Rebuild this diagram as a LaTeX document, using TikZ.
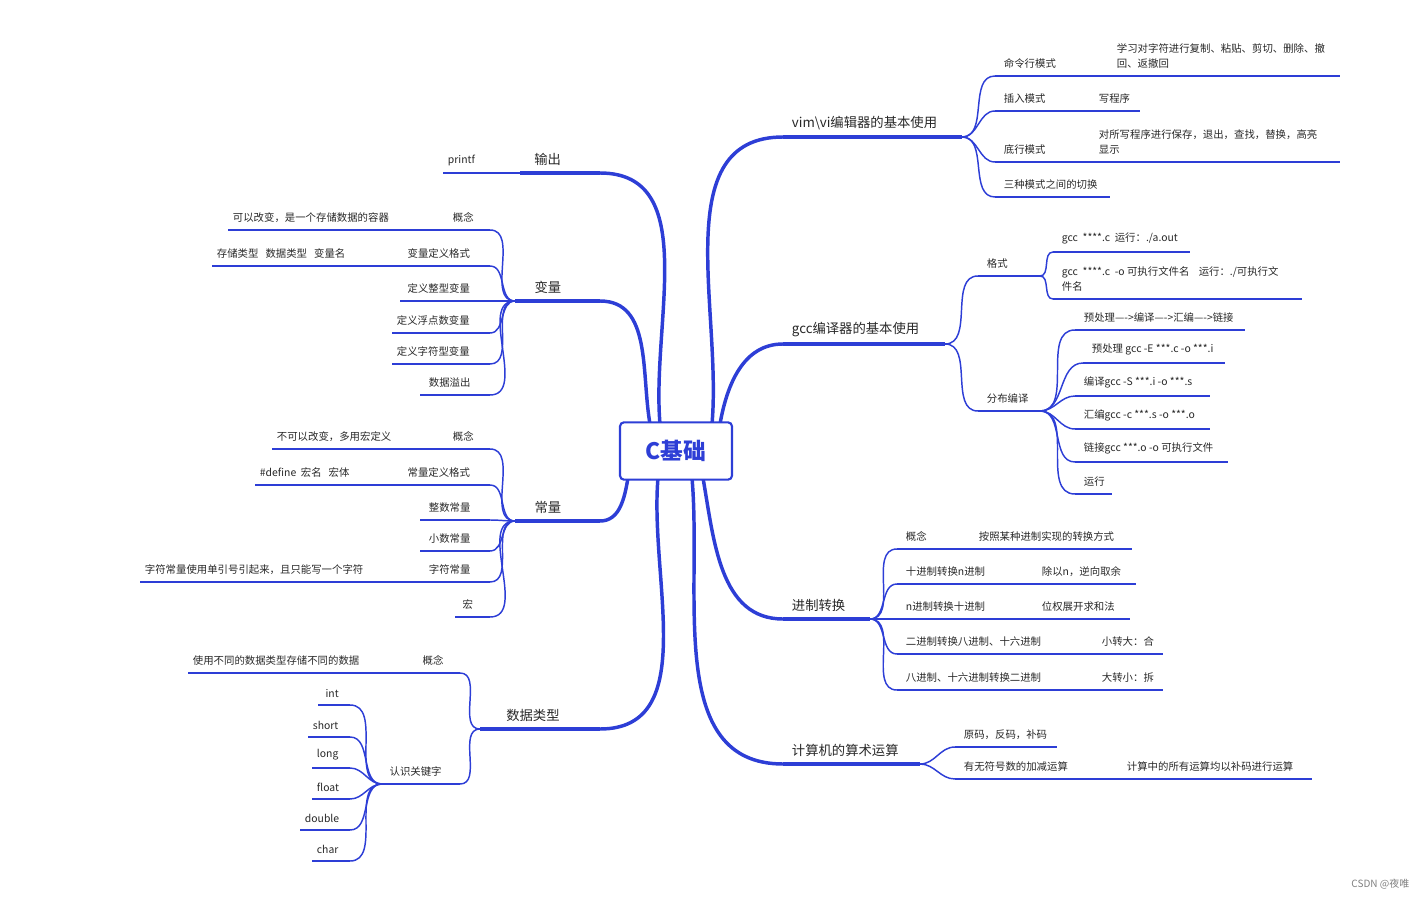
\documentclass[tikz,border=0pt]{standalone}
\usepackage{fontspec}
\setmainfont{Noto Sans CJK SC}
\definecolor{bl}{RGB}{45,62,214}
\definecolor{tx}{RGB}{40,40,40}
\newcommand\RI[6]{\coordinate (#1-a) at (#2,#4); \coordinate (#1-b) at (#3,#4); \draw[#5ln] (#1-a)--(#1-b); \node[#5tx,anchor=south west] (#1) at ([xshift=5pt,yshift=4pt]#1-a) {#6};}
\newcommand\LI[7]{\coordinate (#1-a) at (#2,#4); \coordinate (#1-b) at (#3,#4); \draw[#5ln] (#1-a)--(#1-b); \node[#5tx,anchor=south west] (#1) at ([xshift=#7,yshift=4pt]#1-a) {#6};}
\begin{document}
\begin{tikzpicture}[x=0.75pt,y=-0.75pt,
 mln/.style={bl,line width=2.6pt},
 sln/.style={bl,line width=1.1pt},
 mtx/.style={tx,font=\fontsize{10pt}{12pt}\selectfont,inner sep=1.5pt,align=left},
 stx/.style={tx,font=\fontsize{7.8pt}{11.5pt}\selectfont,inner sep=1.5pt,align=left},
 mc/.style={bl,line width=2.6pt},
 sc/.style={bl,line width=1.1pt}]
\useasboundingbox (0,0) rectangle (1428,899);
% root anchors
\coordinate (r1) at (712,424); \coordinate (r2) at (720,424);
\coordinate (r3) at (703,478); \coordinate (r4) at (692,478);
\coordinate (l1) at (660,424); \coordinate (l2) at (650,424);
\coordinate (l3) at (628,478); \coordinate (l4) at (658,478);
% right side
\RI{vim}{783}{962}{137}{m}{vim\textbackslash vi编辑器的基本使用}
\RI{cmd}{995}{1108}{76}{s}{命令行模式}
\RI{cmdc}{1108}{1340}{76}{s}{学习对字符进行复制、粘贴、剪切、删除、撤\\回、返撤回}
\RI{ins}{995}{1090}{111}{s}{插入模式}
\RI{insc}{1090}{1140}{111}{s}{写程序}
\RI{bot}{995}{1090}{162}{s}{底行模式}
\RI{botc}{1090}{1340}{162}{s}{对所写程序进行保存，退出，查找，替换，高亮\\显示}
\RI{sw}{995}{1110}{197}{s}{三种模式之间的切换}
\RI{gcc}{783}{945}{344}{m}{gcc编译器的基本使用}
\RI{fmt}{978}{1040}{276}{s}{格式}
\RI{f1}{1053}{1190}{252}{s}{gcc\ \ ****.c\ \ 运行：./a.out}
\RI{f2}{1053}{1302}{299}{s}{gcc\ \ ****.c\ \ -o 可执行文件名\ \ \ \ 运行：./可执行文\\件名}
\RI{dist}{978}{1040}{411}{s}{分布编译}
\RI{d1}{1075}{1245}{330}{s}{预处理---->编译---->汇编---->链接}
\RI{d2}{1083}{1225}{363}{s}{预处理 gcc -E ***.c -o ***.i}
\RI{d3}{1075}{1210}{396}{s}{编译gcc -S ***.i -o ***.s}
\RI{d4}{1075}{1210}{429}{s}{汇编gcc -c ***.s -o ***.o}
\RI{d5}{1075}{1228}{462}{s}{链接gcc ***.o -o 可执行文件}
\RI{d6}{1075}{1112}{494}{s}{运行}
\RI{jz}{783}{870}{619}{m}{进制转换}
\RI{j1}{897}{970}{549}{s}{概念}
\RI{j1c}{970}{1132}{549}{s}{按照某种进制实现的转换方式}
\RI{j2}{897}{1033}{584}{s}{十进制转换n进制}
\RI{j2c}{1033}{1136}{584}{s}{除以n，逆向取余}
\RI{j3}{897}{1033}{619}{s}{n进制转换十进制}
\RI{j3c}{1033}{1130}{619}{s}{位权展开求和法}
\RI{j4}{897}{1093}{654}{s}{二进制转换八进制、十六进制}
\RI{j4c}{1093}{1163}{654}{s}{小转大：合}
\RI{j5}{897}{1093}{690}{s}{八进制、十六进制转换二进制}
\RI{j5c}{1093}{1163}{690}{s}{大转小：拆}
\RI{ar}{783}{920}{764}{m}{计算机的算术运算}
\RI{a1}{955}{1057}{747}{s}{原码，反码，补码}
\RI{a2}{955}{1118}{779}{s}{有无符号数的加减运算}
\RI{a2c}{1118}{1312}{779}{s}{计算中的所有运算均以补码进行运算}
% left side
\LI{out}{520}{600}{173}{m}{输出}{9pt}
\LI{pf}{443}{520}{173}{s}{printf}{2pt}
\LI{var}{515}{600}{301}{m}{变量}{13pt}
\LI{v1}{440}{490}{230}{s}{概念}{8pt}
\LI{v1c}{228}{440}{230}{s}{可以改变，是一个存储数据的容器}{2pt}
\LI{v2}{400}{490}{266}{s}{变量定义格式}{4pt}
\LI{v2c}{212}{400}{266}{s}{存储类型\ \ \ 数据类型\ \ \ 变量名}{2pt}
\LI{v3}{400}{490}{301}{s}{定义整型变量}{4pt}
\LI{v4}{392}{490}{333}{s}{定义浮点数变量}{2pt}
\LI{v5}{392}{490}{364}{s}{定义字符型变量}{2pt}
\LI{v6}{420}{490}{395}{s}{数据溢出}{5pt}
\LI{con}{515}{600}{521}{m}{常量}{13pt}
\LI{c1}{440}{490}{449}{s}{概念}{8pt}
\LI{c1c}{272}{440}{449}{s}{不可以改变，多用宏定义}{2pt}
\LI{c2}{400}{490}{485}{s}{常量定义格式}{4pt}
\LI{c2c}{255}{400}{485}{s}{\#define\ \ 宏名\ \ \ 宏体}{2pt}
\LI{c3}{420}{490}{520}{s}{整数常量}{5pt}
\LI{c4}{420}{490}{551}{s}{小数常量}{5pt}
\LI{c5}{420}{490}{582}{s}{字符常量}{5pt}
\LI{c5c}{140}{420}{582}{s}{字符常量使用单引号引起来，且只能写一个字符}{2pt}
\LI{c6}{455}{490}{617}{s}{宏}{4pt}
\LI{dt}{480}{600}{729}{m}{数据类型}{18pt}
\LI{t1}{415}{460}{673}{s}{概念}{4pt}
\LI{t1c}{188}{415}{673}{s}{使用不同的数据类型存储不同的数据}{2pt}
\LI{t2}{382}{460}{784}{s}{认识关键字}{4pt}
\LI{k1}{318}{350}{705}{s}{int}{4pt}
\LI{k2}{308}{350}{737}{s}{short}{2pt}
\LI{k3}{312}{350}{768}{s}{long}{2pt}
\LI{k4}{312}{350}{799}{s}{float}{2pt}
\LI{k5}{300}{350}{830}{s}{double}{2pt}
\LI{k6}{312}{350}{861}{s}{char}{2pt}
% root connectors
\draw[mc] (r1) to[out=85,in=180] (vim-a);
\draw[mc] (r2) to[out=80,in=180] (gcc-a);
\draw[mc] (r3) to[out=-80,in=180] (jz-a);
\draw[mc] (r4) to[out=-85,in=180] (ar-a);
\draw[mc] (out-b) to[out=0,in=95] (l1);
\draw[mc] (var-b) to[out=0,in=100] (l2);
\draw[mc] (con-b) to[out=0,in=-100] (l3);
\draw[mc] (dt-b) to[out=0,in=-95] (l4);
% sub connectors right
\foreach \c in {cmd,ins,bot,sw} \draw[sc] (vim-b) to[out=0,in=180] (\c-a);
\foreach \c in {fmt,dist} \draw[sc] (gcc-b) to[out=0,in=180] (\c-a);
\foreach \c in {f1,f2} \draw[sc] (fmt-b) to[out=0,in=180] (\c-a);
\foreach \c in {d1,d2,d3,d4,d5,d6} \draw[sc] (dist-b) to[out=0,in=180] (\c-a);
\foreach \c in {j1,j2,j3,j4,j5} \draw[sc] (jz-b) to[out=0,in=180] (\c-a);
\foreach \c in {a1,a2} \draw[sc] (ar-b) to[out=0,in=180] (\c-a);
% left
\draw[sc] (pf-b) to[out=0,in=180] (out-a);
\foreach \c in {v1,v2,v3,v4,v5,v6} \draw[sc] (\c-b) to[out=0,in=180] (var-a);
\foreach \c in {c1,c2,c3,c4,c5,c6} \draw[sc] (\c-b) to[out=0,in=180] (con-a);
\foreach \c in {t1,t2} \draw[sc] (\c-b) to[out=0,in=180] (dt-a);
\foreach \c in {k1,k2,k3,k4,k5,k6} \draw[sc] (\c-b) to[out=0,in=180] (t2-a);
% root
\node[draw=bl,line width=1.6pt,fill=white,rounded corners=3pt,minimum width=84pt,minimum height=43pt,text=bl,font=\fontsize{17pt}{20pt}\selectfont\bfseries] (root) at (676,451) {C基础};
\node[text=gray,font=\fontsize{7.5pt}{9pt}\selectfont,anchor=east] (wm) at (1414,884) {CSDN @夜唯};
\end{tikzpicture}
\end{document}
